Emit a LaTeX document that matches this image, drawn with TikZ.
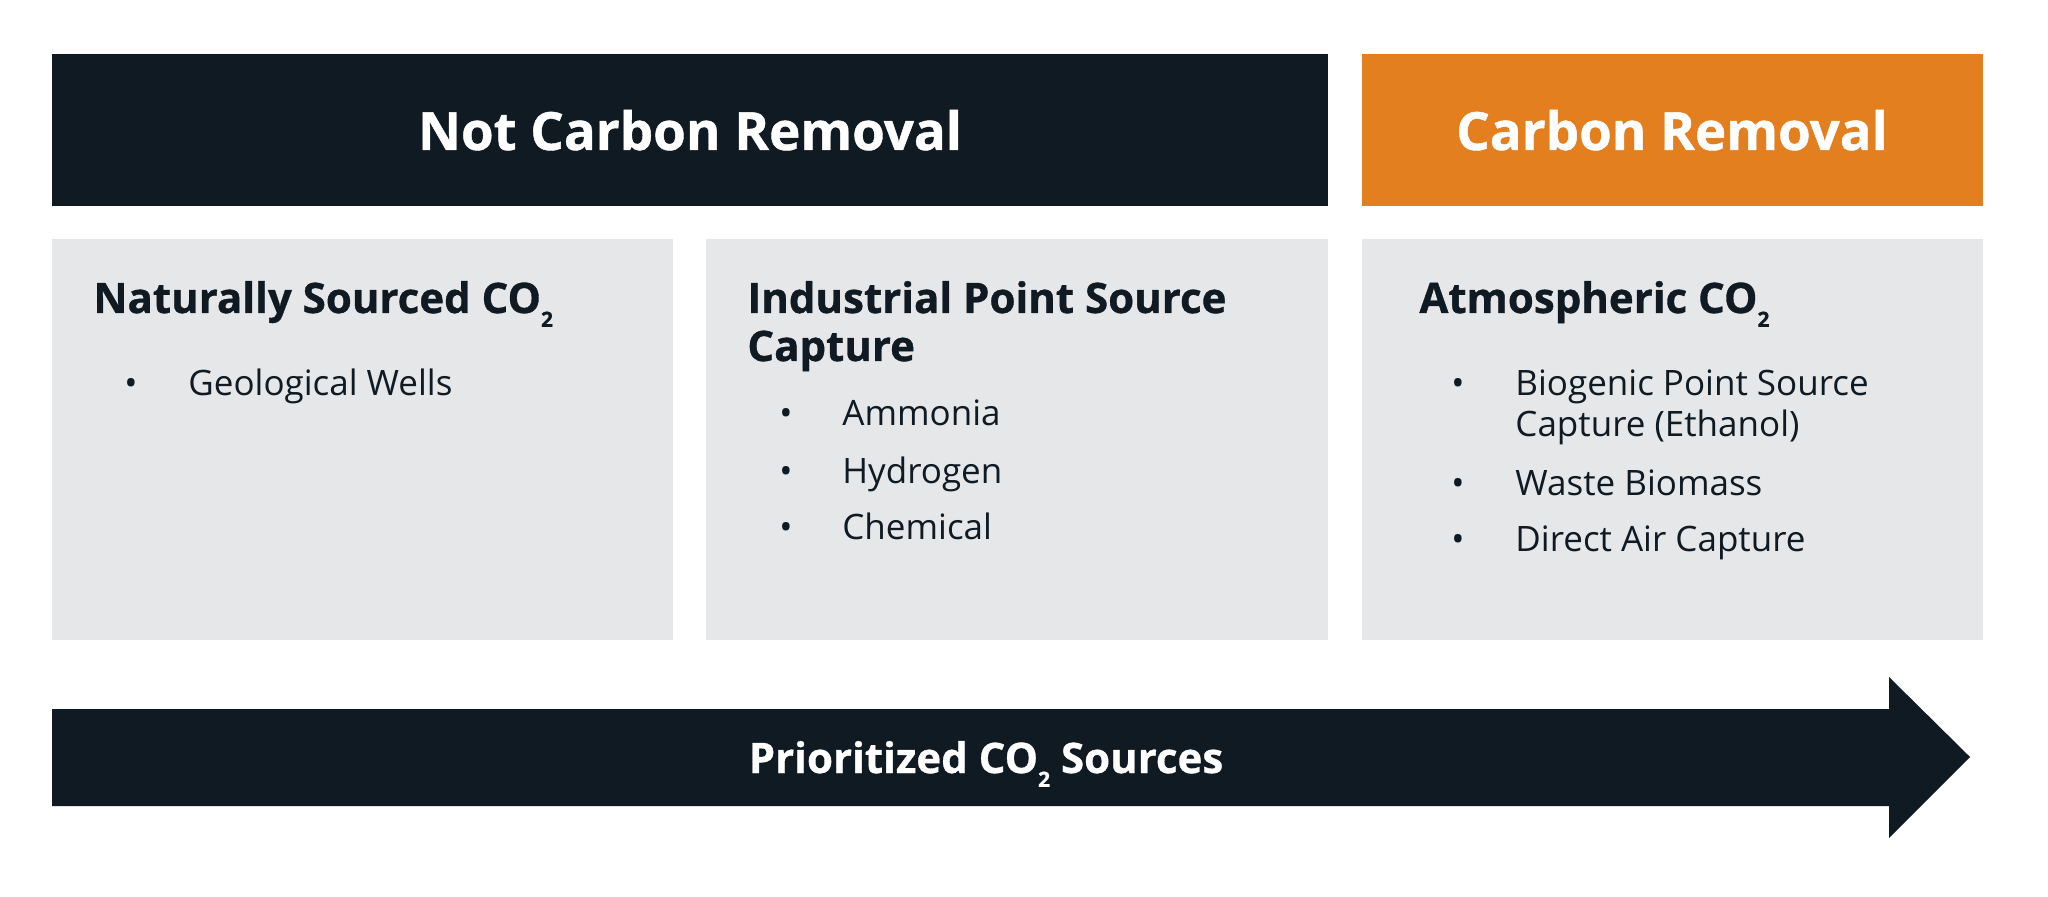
\documentclass[tikz,border=0pt]{standalone}
\usepackage{fontspec}
\setmainfont{Open Sans}[BoldFeatures={FakeBold=0.8}]
\definecolor{navy}{HTML}{0F1A23}
\definecolor{carrot}{HTML}{E37F1E}
\definecolor{panel}{HTML}{E6E7E9}
\newcommand{\subtwo}{\raisebox{-0.33em}{\scalebox{0.5}{2}}}

\begin{document}
\begin{tikzpicture}[x=0.5pt,y=-0.5pt,
  hdr/.style={anchor=base,text=white,inner sep=0,font=\bfseries\fontsize{26.4}{32}\selectfont},
  head/.style={anchor=base west,text=navy,inner sep=0,font=\bfseries\fontsize{21}{25}\selectfont},
  item/.style={anchor=base west,text=navy,inner sep=0,font=\fontsize{17.5}{21}\selectfont},
  dot/.style={item,anchor=base}]
\useasboundingbox (0,0) rectangle (2048,897);
\fill[navy] (52,54) rectangle (1328,206);
\fill[carrot] (1362,54) rectangle (1983,206);
\node[hdr] (notcr) at (690,150) {Not Carbon Removal};
\node[hdr] (cr) at (1672,150) {Carbon Removal};
\fill[panel] (52,239) rectangle (673,640);
\fill[panel] (706,239) rectangle (1328,640);
\fill[panel] (1362,239) rectangle (1983,640);
% naturally sourced
\node[head] (nat) at (93,313) {Naturally Sourced CO\subtwo};
\node[dot] (natb1) at (131,396) {\textbullet};
\node[item] (geo) at (188,396) {Geological Wells};
% industrial
\node[head] (ind) at (747,313) {Industrial Point Source};
\node[head] (indb) at (747,361) {Capture};
\node[dot] (indb1) at (786,426) {\textbullet};
\node[item] (amm) at (842,426) {Ammonia};
\node[dot] (indb2) at (786,483) {\textbullet};
\node[item] (hyd) at (842,483) {Hydrogen};
\node[dot] (indb3) at (786,539) {\textbullet};
\node[item] (chem) at (842,539) {Chemical};
% atmospheric
\node[head] (atm) at (1419,313) {Atmospheric CO\subtwo};
\node[dot] (atmb1) at (1458,396) {\textbullet};
\node[item] (bio) at (1515,396) {Biogenic Point Source};
\node[item] (bio2) at (1515,437) {Capture (Ethanol)};
\node[dot] (atmb2) at (1458,495) {\textbullet};
\node[item] (waste) at (1515,495) {Waste Biomass};
\node[dot] (atmb3) at (1458,551) {\textbullet};
\node[item] (dac) at (1515,551) {Direct Air Capture};
% arrow
\fill[navy] (52,709) -- (1889,709) -- (1889,677) -- (1970,757) -- (1889,838) -- (1889,806) -- (52,806) -- cycle;
\node[head,anchor=base,text=white] (prio) at (986,773) {Prioritized CO\subtwo{} Sources};
\end{tikzpicture}
\end{document}
